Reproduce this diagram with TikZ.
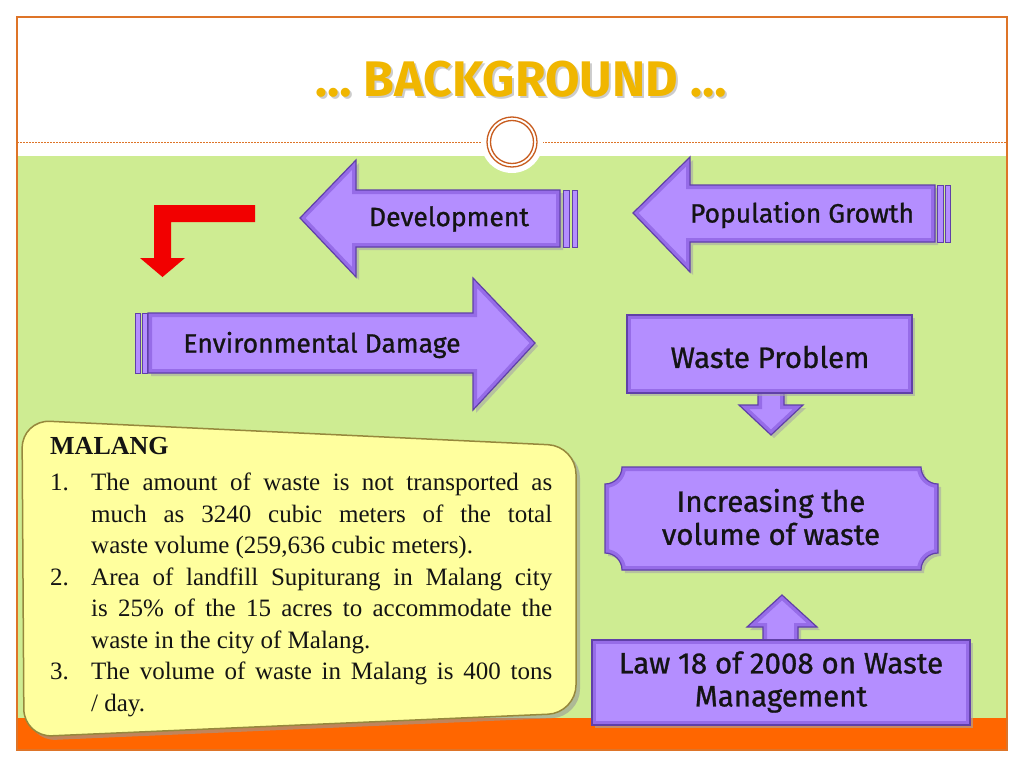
\documentclass[tikz,border=0pt]{standalone}
\usepackage{fontspec}
\setmainfont{Liberation Serif}
\newfontfamily\labfont[FakeBold=0.9]{Fira Sans}
\newfontfamily\titfont{Fira Sans}
\definecolor{frameor}{RGB}{222,116,40}
\definecolor{greenbg}{RGB}{206,236,146}
\definecolor{orbar}{RGB}{255,102,0}
\definecolor{gold}{RGB}{240,182,0}
\definecolor{pfillc}{RGB}{180,142,255}
\definecolor{primc}{RGB}{150,108,232}
\definecolor{pedgec}{RGB}{96,64,168}
\definecolor{yfill}{RGB}{255,255,158}
\definecolor{yedge}{RGB}{150,136,60}
\definecolor{ringc}{RGB}{200,92,30}
\tikzset{
  lbl/.style={font=\labfont\fontsize{26.5}{31}\selectfont, text=black!92, align=center, inner sep=0},
  boxlbl/.style={font=\labfont\fontsize{29.5}{33}\selectfont, text=black!92, align=center, inner sep=0},
  pedge/.style={draw=pedgec, line width=1.2},
  bar/.style={fill=pfillc, draw=pedgec, line width=1},
  shadowc/.style={fill=black!35, opacity=0.6},
}
\newcommand{\pshape}[1]{%
  \fill[shadowc, shift={(3,3)}] #1 -- cycle;
  \begin{scope}\clip #1 -- cycle;
    \fill[pfillc] #1 -- cycle;
    \draw[primc, line width=8] #1 -- cycle;
  \end{scope}
  \draw[pedge] #1 -- cycle;}
\begin{document}
\begin{tikzpicture}[x=1pt,y=-1pt]
\useasboundingbox (0,0) rectangle (1024,768);
\fill[white] (0,0) rectangle (1024,768);
% panels
\fill[greenbg] (18,156) rectangle (1006,718);
\fill[orbar] (18,718) rectangle (1006,750);
\draw[frameor, line width=1.2] (17,17) rectangle (1007,750);
\draw[frameor, dashed, dash pattern=on 2pt off 1pt, line width=0.9] (17,142) -- (1007,142);
\fill[white] (512,142) circle (31);
\draw[ringc, line width=1.3] (512,142) circle (25);
\draw[ringc, line width=1.3] (512,142) circle (21.5);
% title
\node[font=\titfont\bfseries\fontsize{50}{56}\selectfont, text=black!20, inner sep=0] at (523,81) {… BACKGROUND …};
\node[font=\titfont\bfseries\fontsize{50}{56}\selectfont, text=gold, inner sep=0] (title) at (521,79) {… BACKGROUND …};

% red L arrow
\fill[red!95!black] (255,205) -- (154,205) -- (154,258) -- (140,258) -- (162.5,277) -- (185,258) -- (171,258) -- (171,222) -- (255,222) -- cycle;

% Development arrow
\pshape{(300,218) -- (356,160) -- (356,190) -- (560,190) -- (560,247) -- (356,247) -- (356,277)}
\filldraw[bar] (563,190) rectangle (569,247);
\filldraw[bar] (572,190) rectangle (577,247);
\node[lbl] (dev) at (449,219) {Development};

% Population growth arrow
\pshape{(633,213) -- (690,157) -- (690,185) -- (935,185) -- (935,242) -- (690,242) -- (690,272)}
\filldraw[bar] (937,185) rectangle (943,242);
\filldraw[bar] (945,185) rectangle (950,242);
\node[lbl] (pop) at (802,215) {Population Growth};

% Environmental damage arrow
\pshape{(148,313) -- (473,313) -- (473,278) -- (535,343) -- (473,410) -- (473,373) -- (148,373)}
\filldraw[bar] (135,313) rectangle (140,373);
\filldraw[bar] (142,313) rectangle (147,373);
\node[lbl] (env) at (322,345) {Environmental Damage};

% Waste problem with down arrow
\pshape{(758,390) -- (784,390) -- (784,405) -- (803,405) -- (771,435) -- (739,405) -- (758,405)}
\pshape{(627,315) -- (912,315) -- (912,393) -- (627,393)}
\node[boxlbl] (waste) at (770,357) {Waste Problem};

% Increasing the volume of waste (plaque)
\pshape{(622,467) -- (921,467) .. controls (921,476.4) and (928.6,484) .. (938,484) -- (938,553) .. controls (928.6,553) and (921,560.6) .. (921,570) -- (622,570) .. controls (622,560.6) and (614.4,553) .. (605,553) -- (605,484) .. controls (614.4,484) and (622,476.4) .. (622,467)}
\node[boxlbl] (incr) at (771,517) {Increasing the\\volume of waste};

% Up arrow and Law box
\pshape{(763,645) -- (763,627) -- (747,627) -- (782,595) -- (817,627) -- (798,627) -- (798,645)}
\pshape{(592,640) -- (970,640) -- (970,725) -- (592,725)}
\node[boxlbl] (law) at (781,682) {Law 18 of 2008 on Waste\\Management};

% Yellow MALANG box
\fill[black!40, opacity=0.6, rounded corners=28, shift={(4,4)}] (22,420) -- (576,446) -- (576,713) -- (24,737) -- cycle;
\filldraw[fill=yfill, draw=yedge, line width=1.5, rounded corners=28] (22,420) -- (576,446) -- (576,713) -- (24,737) -- cycle;
\node[anchor=north west, text width=502pt, inner sep=0, align=justify,
      font=\fontsize{25}{31.5}\selectfont, text=black!92] (malang) at (50,437) {%
{\bfseries\fontsize{26}{30}\selectfont MALANG}\par\vspace{5pt}
\hangindent=41pt\hangafter=1\noindent\makebox[41pt][l]{1.}The amount of waste is not transported as\linebreak much as 3240 cubic meters of the total\linebreak waste volume (259,636 cubic meters).\par
\hangindent=41pt\hangafter=1\noindent\makebox[41pt][l]{2.}Area of landfill Supiturang in Malang city\linebreak is 25\% of the 15 acres to accommodate the\linebreak waste in the city of Malang.\par
\hangindent=41pt\hangafter=1\noindent\makebox[41pt][l]{3.}The volume of waste in Malang is 400 tons\linebreak / day.\par};
\end{tikzpicture}
\end{document}
